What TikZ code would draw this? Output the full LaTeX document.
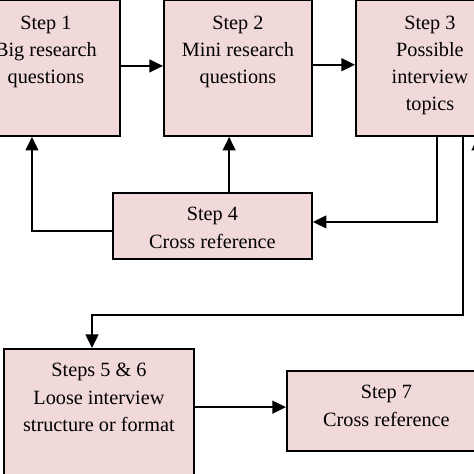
\documentclass[tikz,border=0pt]{standalone}
\usepackage{fontspec}
\setmainfont{Liberation Serif}
\usetikzlibrary{arrows.meta}
\definecolor{boxpink}{RGB}{241,217,217}
\tikzset{
  stepbox/.style={draw, line width=1.3pt, fill=boxpink, anchor=north west, inner sep=0pt},
  steptext/.style={anchor=north, align=center, inner sep=0pt,
    font=\fontsize{14.4}{19.3}\selectfont},
  arr/.style={line width=1.3pt, -{Triangle[length=0.34cm,width=0.32cm]}}
}
\begin{document}
\begin{tikzpicture}[x=0.025cm, y=-0.025cm]
  \useasboundingbox (0,0) rectangle (474,474);
  % boxes: name/corner/width/height (cm)
  \foreach \n/\c/\w/\h in {s1/{(-29,-1)}/3.7/3.4, s2/{(163,-1)}/3.7/3.4, s3/{(355,-1)}/3.7/3.4,
      s4/{(112,192)}/4.975/1.65, s5/{(3,348)}/4.75/3.15, s7/{(286,370)}/4.975/2}
    {\node[stepbox, minimum width=\w cm, minimum height=\h cm] (\n) at \c {};}
  \node[steptext] (s1text) at ([yshift=-11.8pt]s1.north) {Step 1\\Big research\\questions};
  \node[steptext] (s2text) at ([yshift=-11.8pt]s2.north) {Step 2\\Mini research\\questions};
  \node[steptext] (s3text) at ([yshift=-11.8pt]s3.north) {Step 3\\Possible\\interview\\topics};
  \node[steptext] (s4text) at ([yshift=-10.8pt]s4.north) {Step 4\\Cross reference};
  \node[steptext] (s5text) at ([yshift=-10.8pt]s5.north) {Steps 5 \& 6\\Loose interview\\structure or format};
  \node[steptext] (s7text) at ([yshift=-10.8pt]s7.north) {Step 7\\Cross reference};
  % connectors
  \draw[arr] ([yshift=0.05cm]s1.east) -- ([yshift=0.05cm]s2.west);
  \draw[arr] ([yshift=0.08cm]s2.east) -- ([yshift=0.08cm]s3.west);
  \draw[arr] ([yshift=-0.12cm]s4.west) -| ([xshift=-0.35cm]s1.south);
  \draw[arr] ([xshift=-0.22cm]s2.south |- s4.north) -- ([xshift=-0.22cm]s2.south);
  \draw[arr] ([xshift=0.18cm]s3.south) |- ([yshift=0.1cm]s4.east);
  \draw[arr] ([xshift=0.83cm]s3.south) |- (92,315) -- (92,0 |- s5.north);
  \draw[arr] ([xshift=1.2cm]s3.south) ++(0,-3cm) -- ([xshift=1.2cm]s3.south);
  \draw[arr] ([yshift=0.12cm]s5.east) -- ([yshift=0.12cm]s5.east -| s7.west);
\end{tikzpicture}
\end{document}
